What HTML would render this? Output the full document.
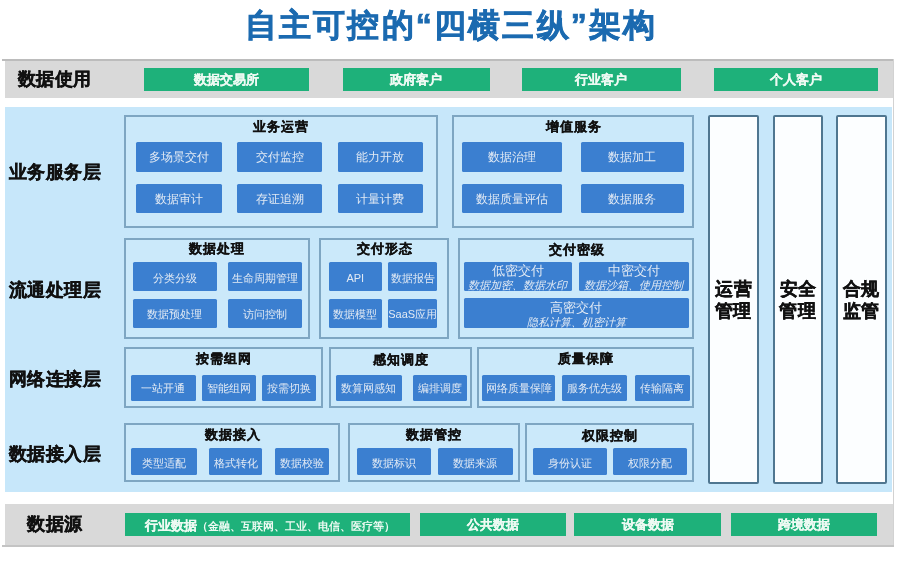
<!DOCTYPE html>
<html><head><meta charset="utf-8"><style>
html,body{margin:0;padding:0;background:#fff;}
body{width:901px;height:563px;position:relative;overflow:hidden;font-family:"Liberation Sans",sans-serif;}
#w{position:absolute;left:0;top:0;width:901px;height:563px;filter:blur(0.45px);}
#w>div{position:absolute;}
.t{white-space:nowrap;}
</style></head><body><div id="w">
<div class="t" style="left:200px;top:5px;width:500px;height:40px;line-height:40px;font-size:32px;font-weight:bold;color:#1b6ab0;text-align:center;-webkit-text-stroke:0.7px #1b6ab0;letter-spacing:2.2px;text-indent:2.2px;">自主可控的“四横三纵”架构</div>
<div style="left:2px;top:59px;width:891.5px;height:1.6px;background:#bcbcbc;"></div>
<div style="left:4.5px;top:60.5px;width:888.5px;height:37.5px;background:#d9d9d9;"></div>
<div class="t" style="left:4px;top:60px;width:101px;height:38px;line-height:38px;font-size:18px;font-weight:bold;color:#111;text-align:center;-webkit-text-stroke:0.4px #111;letter-spacing:0.5px;text-indent:0.5px;">数据使用</div>
<div style="left:144px;top:67.5px;width:164.5px;height:23.0px;background:#1eb17a;"></div>
<div class="t" style="left:144px;top:67.5px;width:164.5px;height:23.0px;line-height:23.0px;font-size:13px;font-weight:bold;color:#eefaf3;text-align:center;-webkit-text-stroke:0.2px #eefaf3;">数据交易所</div>
<div style="left:342.5px;top:67.5px;width:147.5px;height:23.0px;background:#1eb17a;"></div>
<div class="t" style="left:342.5px;top:67.5px;width:147.5px;height:23.0px;line-height:23.0px;font-size:13px;font-weight:bold;color:#eefaf3;text-align:center;-webkit-text-stroke:0.2px #eefaf3;">政府客户</div>
<div style="left:522px;top:67.5px;width:158.5px;height:23.0px;background:#1eb17a;"></div>
<div class="t" style="left:522px;top:67.5px;width:158.5px;height:23.0px;line-height:23.0px;font-size:13px;font-weight:bold;color:#eefaf3;text-align:center;-webkit-text-stroke:0.2px #eefaf3;">行业客户</div>
<div style="left:714px;top:67.5px;width:164px;height:23.0px;background:#1eb17a;"></div>
<div class="t" style="left:714px;top:67.5px;width:164px;height:23.0px;line-height:23.0px;font-size:13px;font-weight:bold;color:#eefaf3;text-align:center;-webkit-text-stroke:0.2px #eefaf3;">个人客户</div>
<div style="left:4.8px;top:106.8px;width:887.7px;height:385.6px;background:#c7e7fa;"></div>
<div class="t" style="left:4px;top:160px;width:101px;height:24px;line-height:24px;font-size:18px;font-weight:bold;color:#111;text-align:center;-webkit-text-stroke:0.4px #111;letter-spacing:0.5px;text-indent:0.5px;">业务服务层</div>
<div class="t" style="left:4px;top:277.8px;width:101px;height:24.0px;line-height:24.0px;font-size:18px;font-weight:bold;color:#111;text-align:center;-webkit-text-stroke:0.4px #111;letter-spacing:0.5px;text-indent:0.5px;">流通处理层</div>
<div class="t" style="left:4px;top:366.6px;width:101px;height:24.0px;line-height:24.0px;font-size:18px;font-weight:bold;color:#111;text-align:center;-webkit-text-stroke:0.4px #111;letter-spacing:0.5px;text-indent:0.5px;">网络连接层</div>
<div class="t" style="left:4px;top:442.3px;width:101px;height:24.0px;line-height:24.0px;font-size:18px;font-weight:bold;color:#111;text-align:center;-webkit-text-stroke:0.4px #111;letter-spacing:0.5px;text-indent:0.5px;">数据接入层</div>
<div style="left:123.5px;top:115.3px;width:314.5px;height:112.4px;border:2px solid #7ea6c2;box-sizing:border-box;background:#cbe9fa;"></div>
<div class="t" style="left:123.5px;top:117.5px;width:314.5px;height:18.0px;line-height:18.0px;font-size:13px;font-weight:bold;color:#111;text-align:center;-webkit-text-stroke:0.3px #111;letter-spacing:1px;text-indent:1px;">业务运营</div>
<div style="left:136px;top:142px;width:86px;height:29.8px;background:#3b7fd0;border-radius:1.5px;"></div>
<div class="t" style="left:136px;top:143.4px;width:86px;height:29.8px;line-height:29.8px;font-size:12px;color:#e2eaf4;text-align:center;">多场景交付</div>
<div style="left:237px;top:142px;width:85.3px;height:29.8px;background:#3b7fd0;border-radius:1.5px;"></div>
<div class="t" style="left:237px;top:143.4px;width:85.3px;height:29.8px;line-height:29.8px;font-size:12px;color:#e2eaf4;text-align:center;">交付监控</div>
<div style="left:337.5px;top:142px;width:85.7px;height:29.8px;background:#3b7fd0;border-radius:1.5px;"></div>
<div class="t" style="left:337.5px;top:143.4px;width:85.7px;height:29.8px;line-height:29.8px;font-size:12px;color:#e2eaf4;text-align:center;">能力开放</div>
<div style="left:136px;top:183.6px;width:86px;height:29.8px;background:#3b7fd0;border-radius:1.5px;"></div>
<div class="t" style="left:136px;top:185.0px;width:86px;height:29.8px;line-height:29.8px;font-size:12px;color:#e2eaf4;text-align:center;">数据审计</div>
<div style="left:237px;top:183.6px;width:85.3px;height:29.8px;background:#3b7fd0;border-radius:1.5px;"></div>
<div class="t" style="left:237px;top:185.0px;width:85.3px;height:29.8px;line-height:29.8px;font-size:12px;color:#e2eaf4;text-align:center;">存证追溯</div>
<div style="left:337.5px;top:183.6px;width:85.7px;height:29.8px;background:#3b7fd0;border-radius:1.5px;"></div>
<div class="t" style="left:337.5px;top:185.0px;width:85.7px;height:29.8px;line-height:29.8px;font-size:12px;color:#e2eaf4;text-align:center;">计量计费</div>
<div style="left:452px;top:115.3px;width:242px;height:112.4px;border:2px solid #7ea6c2;box-sizing:border-box;background:#cbe9fa;"></div>
<div class="t" style="left:452px;top:118px;width:242px;height:18px;line-height:18px;font-size:13px;font-weight:bold;color:#111;text-align:center;-webkit-text-stroke:0.3px #111;letter-spacing:1px;text-indent:1px;">增值服务</div>
<div style="left:461.6px;top:142px;width:100.4px;height:29.8px;background:#3b7fd0;border-radius:1.5px;"></div>
<div class="t" style="left:461.6px;top:143.4px;width:100.4px;height:29.8px;line-height:29.8px;font-size:12px;color:#e2eaf4;text-align:center;">数据治理</div>
<div style="left:581.4px;top:142px;width:102.2px;height:29.8px;background:#3b7fd0;border-radius:1.5px;"></div>
<div class="t" style="left:581.4px;top:143.4px;width:102.2px;height:29.8px;line-height:29.8px;font-size:12px;color:#e2eaf4;text-align:center;">数据加工</div>
<div style="left:461.6px;top:183.6px;width:100.4px;height:29.8px;background:#3b7fd0;border-radius:1.5px;"></div>
<div class="t" style="left:461.6px;top:185.0px;width:100.4px;height:29.8px;line-height:29.8px;font-size:12px;color:#e2eaf4;text-align:center;">数据质量评估</div>
<div style="left:581.4px;top:183.6px;width:102.2px;height:29.8px;background:#3b7fd0;border-radius:1.5px;"></div>
<div class="t" style="left:581.4px;top:185.0px;width:102.2px;height:29.8px;line-height:29.8px;font-size:12px;color:#e2eaf4;text-align:center;">数据服务</div>
<div style="left:123.5px;top:237.5px;width:186.7px;height:101.5px;border:2px solid #7ea6c2;box-sizing:border-box;background:#cbe9fa;"></div>
<div class="t" style="left:123.5px;top:240px;width:186.7px;height:18px;line-height:18px;font-size:13px;font-weight:bold;color:#111;text-align:center;-webkit-text-stroke:0.3px #111;letter-spacing:1px;text-indent:1px;">数据处理</div>
<div style="left:132.7px;top:262.3px;width:83.9px;height:28.5px;background:#3b7fd0;border-radius:1.5px;"></div>
<div class="t" style="left:132.7px;top:263.7px;width:83.9px;height:28.5px;line-height:28.5px;font-size:11px;color:#e2eaf4;text-align:center;">分类分级</div>
<div style="left:227.7px;top:262.3px;width:74.3px;height:28.5px;background:#3b7fd0;border-radius:1.5px;"></div>
<div class="t" style="left:227.7px;top:263.7px;width:74.3px;height:28.5px;line-height:28.5px;font-size:11px;color:#e2eaf4;text-align:center;">生命周期管理</div>
<div style="left:132.7px;top:298.8px;width:83.9px;height:28.9px;background:#3b7fd0;border-radius:1.5px;"></div>
<div class="t" style="left:132.7px;top:300.2px;width:83.9px;height:28.9px;line-height:28.9px;font-size:11px;color:#e2eaf4;text-align:center;">数据预处理</div>
<div style="left:227.7px;top:298.8px;width:74.3px;height:28.9px;background:#3b7fd0;border-radius:1.5px;"></div>
<div class="t" style="left:227.7px;top:300.2px;width:74.3px;height:28.9px;line-height:28.9px;font-size:11px;color:#e2eaf4;text-align:center;">访问控制</div>
<div style="left:319.2px;top:237.5px;width:130.0px;height:101.5px;border:2px solid #7ea6c2;box-sizing:border-box;background:#cbe9fa;"></div>
<div class="t" style="left:319.2px;top:240px;width:130.0px;height:18px;line-height:18px;font-size:13px;font-weight:bold;color:#111;text-align:center;-webkit-text-stroke:0.3px #111;letter-spacing:1px;text-indent:1px;">交付形态</div>
<div style="left:328.5px;top:262.3px;width:53.5px;height:28.5px;background:#3b7fd0;border-radius:1.5px;"></div>
<div class="t" style="left:328.5px;top:263.7px;width:53.5px;height:28.5px;line-height:28.5px;font-size:11px;color:#e2eaf4;text-align:center;">API</div>
<div style="left:388px;top:262.3px;width:49.3px;height:28.5px;background:#3b7fd0;border-radius:1.5px;"></div>
<div class="t" style="left:388px;top:263.7px;width:49.3px;height:28.5px;line-height:28.5px;font-size:11px;color:#e2eaf4;text-align:center;">数据报告</div>
<div style="left:328.5px;top:298.8px;width:53.5px;height:28.9px;background:#3b7fd0;border-radius:1.5px;"></div>
<div class="t" style="left:328.5px;top:300.2px;width:53.5px;height:28.9px;line-height:28.9px;font-size:11px;color:#e2eaf4;text-align:center;">数据模型</div>
<div style="left:388px;top:298.8px;width:49.3px;height:28.9px;background:#3b7fd0;border-radius:1.5px;"></div>
<div class="t" style="left:388px;top:300.2px;width:49.3px;height:28.9px;line-height:28.9px;font-size:11px;color:#e2eaf4;text-align:center;">SaaS应用</div>
<div style="left:458px;top:237.5px;width:236px;height:101.5px;border:2px solid #7ea6c2;box-sizing:border-box;background:#cbe9fa;"></div>
<div class="t" style="left:458px;top:240.6px;width:236px;height:18.0px;line-height:18.0px;font-size:13px;font-weight:bold;color:#111;text-align:center;-webkit-text-stroke:0.3px #111;letter-spacing:1px;text-indent:1px;">交付密级</div>
<div style="left:463.9px;top:262px;width:108.2px;height:29.3px;background:#3b7fd0;border-radius:1.5px;"></div>
<div class="t" style="left:463.9px;top:263.8px;width:108.2px;height:14.5px;line-height:14.5px;font-size:13px;color:#e2eaf4;text-align:center;">低密交付</div>
<div class="t" style="left:463.9px;top:279px;width:108.2px;height:12.8px;line-height:12.8px;font-size:11px;font-style:italic;color:#e2eaf4;text-align:center;">数据加密、数据水印</div>
<div style="left:579px;top:262px;width:109.6px;height:29.3px;background:#3b7fd0;border-radius:1.5px;"></div>
<div class="t" style="left:579px;top:263.8px;width:109.6px;height:14.5px;line-height:14.5px;font-size:13px;color:#e2eaf4;text-align:center;">中密交付</div>
<div class="t" style="left:579px;top:279px;width:109.6px;height:12.8px;line-height:12.8px;font-size:11px;font-style:italic;color:#e2eaf4;text-align:center;">数据沙箱、使用控制</div>
<div style="left:463.9px;top:298.2px;width:224.7px;height:29.7px;background:#3b7fd0;border-radius:1.5px;"></div>
<div class="t" style="left:463.9px;top:301.2px;width:224.7px;height:14.5px;line-height:14.5px;font-size:13px;color:#e2eaf4;text-align:center;">高密交付</div>
<div class="t" style="left:463.9px;top:316.4px;width:224.7px;height:12.8px;line-height:12.8px;font-size:11px;font-style:italic;color:#e2eaf4;text-align:center;">隐私计算、机密计算</div>
<div style="left:123.7px;top:347.1px;width:199.8px;height:60.7px;border:2px solid #7ea6c2;box-sizing:border-box;background:#cbe9fa;"></div>
<div class="t" style="left:123.7px;top:349.5px;width:199.8px;height:18.0px;line-height:18.0px;font-size:13px;font-weight:bold;color:#111;text-align:center;-webkit-text-stroke:0.3px #111;letter-spacing:1px;text-indent:1px;">按需组网</div>
<div style="left:130.7px;top:374.8px;width:65.5px;height:25.9px;background:#3b7fd0;border-radius:1.5px;"></div>
<div class="t" style="left:130.7px;top:376.2px;width:65.5px;height:25.9px;line-height:25.9px;font-size:11px;color:#e2eaf4;text-align:center;">一站开通</div>
<div style="left:202px;top:374.8px;width:54.4px;height:25.9px;background:#3b7fd0;border-radius:1.5px;"></div>
<div class="t" style="left:202px;top:376.2px;width:54.4px;height:25.9px;line-height:25.9px;font-size:11px;color:#e2eaf4;text-align:center;">智能组网</div>
<div style="left:262.2px;top:374.8px;width:54.1px;height:25.9px;background:#3b7fd0;border-radius:1.5px;"></div>
<div class="t" style="left:262.2px;top:376.2px;width:54.1px;height:25.9px;line-height:25.9px;font-size:11px;color:#e2eaf4;text-align:center;">按需切换</div>
<div style="left:329.3px;top:347.1px;width:142.7px;height:60.7px;border:2px solid #7ea6c2;box-sizing:border-box;background:#cbe9fa;"></div>
<div class="t" style="left:329.3px;top:350.5px;width:142.7px;height:18.0px;line-height:18.0px;font-size:13px;font-weight:bold;color:#111;text-align:center;-webkit-text-stroke:0.3px #111;letter-spacing:1px;text-indent:1px;">感知调度</div>
<div style="left:335.8px;top:374.8px;width:65.9px;height:25.9px;background:#3b7fd0;border-radius:1.5px;"></div>
<div class="t" style="left:335.8px;top:376.2px;width:65.9px;height:25.9px;line-height:25.9px;font-size:11px;color:#e2eaf4;text-align:center;">数算网感知</div>
<div style="left:412.7px;top:374.8px;width:54.3px;height:25.9px;background:#3b7fd0;border-radius:1.5px;"></div>
<div class="t" style="left:412.7px;top:376.2px;width:54.3px;height:25.9px;line-height:25.9px;font-size:11px;color:#e2eaf4;text-align:center;">编排调度</div>
<div style="left:477.2px;top:347.1px;width:216.8px;height:60.7px;border:2px solid #7ea6c2;box-sizing:border-box;background:#cbe9fa;"></div>
<div class="t" style="left:477.2px;top:350.3px;width:216.8px;height:18.0px;line-height:18.0px;font-size:13px;font-weight:bold;color:#111;text-align:center;-webkit-text-stroke:0.3px #111;letter-spacing:1px;text-indent:1px;">质量保障</div>
<div style="left:481.9px;top:374.8px;width:73.6px;height:25.9px;background:#3b7fd0;border-radius:1.5px;"></div>
<div class="t" style="left:481.9px;top:376.2px;width:73.6px;height:25.9px;line-height:25.9px;font-size:11px;color:#e2eaf4;text-align:center;">网络质量保障</div>
<div style="left:562.4px;top:374.8px;width:64.6px;height:25.9px;background:#3b7fd0;border-radius:1.5px;"></div>
<div class="t" style="left:562.4px;top:376.2px;width:64.6px;height:25.9px;line-height:25.9px;font-size:11px;color:#e2eaf4;text-align:center;">服务优先级</div>
<div style="left:634.7px;top:374.8px;width:55.2px;height:25.9px;background:#3b7fd0;border-radius:1.5px;"></div>
<div class="t" style="left:634.7px;top:376.2px;width:55.2px;height:25.9px;line-height:25.9px;font-size:11px;color:#e2eaf4;text-align:center;">传输隔离</div>
<div style="left:123.6px;top:423.2px;width:216.9px;height:59.3px;border:2px solid #7ea6c2;box-sizing:border-box;background:#cbe9fa;"></div>
<div class="t" style="left:123.6px;top:426.4px;width:216.9px;height:18.0px;line-height:18.0px;font-size:13px;font-weight:bold;color:#111;text-align:center;-webkit-text-stroke:0.3px #111;letter-spacing:1px;text-indent:1px;">数据接入</div>
<div style="left:130.6px;top:448.4px;width:66.0px;height:26.7px;background:#3b7fd0;border-radius:1.5px;"></div>
<div class="t" style="left:130.6px;top:449.79999999999995px;width:66.0px;height:26.7px;line-height:26.7px;font-size:11px;color:#e2eaf4;text-align:center;">类型适配</div>
<div style="left:208.8px;top:448.4px;width:53.7px;height:26.7px;background:#3b7fd0;border-radius:1.5px;"></div>
<div class="t" style="left:208.8px;top:449.79999999999995px;width:53.7px;height:26.7px;line-height:26.7px;font-size:11px;color:#e2eaf4;text-align:center;">格式转化</div>
<div style="left:275.2px;top:448.4px;width:53.6px;height:26.7px;background:#3b7fd0;border-radius:1.5px;"></div>
<div class="t" style="left:275.2px;top:449.79999999999995px;width:53.6px;height:26.7px;line-height:26.7px;font-size:11px;color:#e2eaf4;text-align:center;">数据校验</div>
<div style="left:348px;top:423.2px;width:171.8px;height:59.3px;border:2px solid #7ea6c2;box-sizing:border-box;background:#cbe9fa;"></div>
<div class="t" style="left:348px;top:426.2px;width:171.8px;height:18.0px;line-height:18.0px;font-size:13px;font-weight:bold;color:#111;text-align:center;-webkit-text-stroke:0.3px #111;letter-spacing:1px;text-indent:1px;">数据管控</div>
<div style="left:356.6px;top:448.4px;width:74.3px;height:26.7px;background:#3b7fd0;border-radius:1.5px;"></div>
<div class="t" style="left:356.6px;top:449.79999999999995px;width:74.3px;height:26.7px;line-height:26.7px;font-size:11px;color:#e2eaf4;text-align:center;">数据标识</div>
<div style="left:437.9px;top:448.4px;width:74.9px;height:26.7px;background:#3b7fd0;border-radius:1.5px;"></div>
<div class="t" style="left:437.9px;top:449.79999999999995px;width:74.9px;height:26.7px;line-height:26.7px;font-size:11px;color:#e2eaf4;text-align:center;">数据来源</div>
<div style="left:525.2px;top:423.2px;width:168.8px;height:59.3px;border:2px solid #7ea6c2;box-sizing:border-box;background:#cbe9fa;"></div>
<div class="t" style="left:525.2px;top:426.5px;width:168.8px;height:18.0px;line-height:18.0px;font-size:13px;font-weight:bold;color:#111;text-align:center;-webkit-text-stroke:0.3px #111;letter-spacing:1px;text-indent:1px;">权限控制</div>
<div style="left:532.5px;top:448.4px;width:74.9px;height:26.7px;background:#3b7fd0;border-radius:1.5px;"></div>
<div class="t" style="left:532.5px;top:449.79999999999995px;width:74.9px;height:26.7px;line-height:26.7px;font-size:11px;color:#e2eaf4;text-align:center;">身份认证</div>
<div style="left:613.2px;top:448.4px;width:73.9px;height:26.7px;background:#3b7fd0;border-radius:1.5px;"></div>
<div class="t" style="left:613.2px;top:449.79999999999995px;width:73.9px;height:26.7px;line-height:26.7px;font-size:11px;color:#e2eaf4;text-align:center;">权限分配</div>
<div style="left:708px;top:115.3px;width:50.7px;height:368.3px;background:#fcfeff;border:2px solid #4f7690;border-radius:2px;box-sizing:border-box;"></div>
<div class="t" style="left:708px;top:277.5px;width:50.7px;height:44px;line-height:22px;font-size:18px;font-weight:bold;color:#111;text-align:center;-webkit-text-stroke:0.4px #111;letter-spacing:0.5px;text-indent:0.5px;">运营<br>管理</div>
<div style="left:772.5px;top:115.3px;width:50.8px;height:368.3px;background:#fcfeff;border:2px solid #4f7690;border-radius:2px;box-sizing:border-box;"></div>
<div class="t" style="left:772.5px;top:277.5px;width:50.8px;height:44px;line-height:22px;font-size:18px;font-weight:bold;color:#111;text-align:center;-webkit-text-stroke:0.4px #111;letter-spacing:0.5px;text-indent:0.5px;">安全<br>管理</div>
<div style="left:835.8px;top:115.3px;width:50.9px;height:368.3px;background:#fcfeff;border:2px solid #4f7690;border-radius:2px;box-sizing:border-box;"></div>
<div class="t" style="left:835.8px;top:277.5px;width:50.9px;height:44px;line-height:22px;font-size:18px;font-weight:bold;color:#111;text-align:center;-webkit-text-stroke:0.4px #111;letter-spacing:0.5px;text-indent:0.5px;">合规<br>监管</div>
<div style="left:892.8px;top:59px;width:1.2px;height:488px;background:#d2d2d2;"></div>
<div style="left:4.9px;top:503.6px;width:888.1px;height:41.6px;background:#d9d9d9;"></div>
<div style="left:2px;top:545px;width:891.5px;height:1.5px;background:#c4c4c4;"></div>
<div class="t" style="left:4px;top:503.6px;width:101px;height:41.6px;line-height:41.6px;font-size:18px;font-weight:bold;color:#111;text-align:center;-webkit-text-stroke:0.4px #111;letter-spacing:0.5px;text-indent:0.5px;">数据源</div>
<div style="left:124.5px;top:513.2px;width:285.2px;height:23.3px;background:#1eb17a;"></div>
<div class="t" style="left:145px;top:513.2px;width:260px;height:23.3px;line-height:23.3px;color:#eefaf3;font-weight:bold;text-align:left;"><span style="font-size:13px;-webkit-text-stroke:0.2px #eefaf3;">行业数据</span><span style="font-size:10.5px;">（金融、互联网、工业、电信、医疗等）</span></div>
<div style="left:419.6px;top:513.2px;width:146.4px;height:23.3px;background:#1eb17a;"></div>
<div class="t" style="left:419.6px;top:513.2px;width:146.4px;height:23.3px;line-height:23.3px;font-size:13px;font-weight:bold;color:#eefaf3;text-align:center;-webkit-text-stroke:0.2px #eefaf3;">公共数据</div>
<div style="left:574.3px;top:513.2px;width:146.5px;height:23.3px;background:#1eb17a;"></div>
<div class="t" style="left:574.3px;top:513.2px;width:146.5px;height:23.3px;line-height:23.3px;font-size:13px;font-weight:bold;color:#eefaf3;text-align:center;-webkit-text-stroke:0.2px #eefaf3;">设备数据</div>
<div style="left:730.6px;top:513.2px;width:146.8px;height:23.3px;background:#1eb17a;"></div>
<div class="t" style="left:730.6px;top:513.2px;width:146.8px;height:23.3px;line-height:23.3px;font-size:13px;font-weight:bold;color:#eefaf3;text-align:center;-webkit-text-stroke:0.2px #eefaf3;">跨境数据</div>
</div></body></html>
